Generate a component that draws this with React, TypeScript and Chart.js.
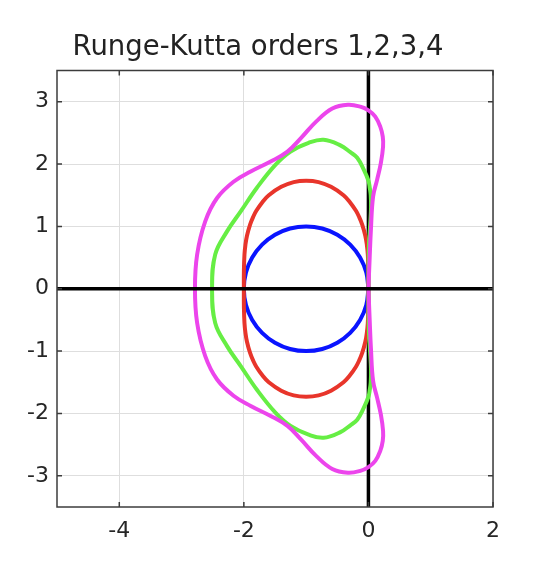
import React, { useEffect, useRef } from "react";
import { Chart, registerables } from "chart.js";

Chart.register(...registerables);

const titleText = "Runge-Kutta orders 1,2,3,4";

const xTicks = [-4, -2, 0, 2];
const yTicks = [-3, -2, -1, 0, 1, 2, 3];

// Order 1 (blue) boundary
const rk1X = [0, -0.034, -0.134, -0.293, -0.5, -0.741, -1, -1.259, -1.5, -1.707, -1.866, -1.966, -2,
  -1.966, -1.866, -1.707, -1.5, -1.259, -1, -0.741, -0.5, -0.293, -0.134, -0.034, 0];
const rk1Y = [0, 0.259, 0.5, 0.707, 0.866, 0.966, 1, 0.966, 0.866, 0.707, 0.5, 0.259, 0,
  -0.259, -0.5, -0.707, -0.866, -0.966, -1, -0.966, -0.866, -0.707, -0.5, -0.259, 0];

// Order 2 (red) boundary
const rk2X = [0, -0.001, -0.01, -0.025, -0.05, -0.1, -0.15, -0.2, -0.3, -0.4, -0.6, -0.8, -1, -1.2, -1.4, -1.6, -1.7, -1.8, -1.85, -1.9, -1.95, -1.975, -1.99, -1.999, -2,
  -1.999, -1.99, -1.975, -1.95, -1.9, -1.85, -1.8, -1.7, -1.6, -1.4, -1.2, -1, -0.8, -0.6, -0.4, -0.3, -0.2, -0.15, -0.1, -0.05, -0.025, -0.01, -0.001, 0];
const rk2Y = [0, 0.3, 0.55, 0.703, 0.85, 1.03, 1.154, 1.25, 1.392, 1.5, 1.635, 1.71, 1.732, 1.71, 1.635, 1.5, 1.392, 1.25, 1.154, 1.03, 0.85, 0.703, 0.55, 0.3, 0,
  -0.3, -0.55, -0.703, -0.85, -1.03, -1.154, -1.25, -1.392, -1.5, -1.635, -1.71, -1.732, -1.71, -1.635, -1.5, -1.392, -1.25, -1.154, -1.03, -0.85, -0.703, -0.55, -0.3, 0];

// Order 3 (green) boundary
const rk3X = [0, 0.008, 0.026, 0.042, 0.037, 0.02, 0, -0.075, -0.18, -0.29, -0.45, -0.72, -0.96, -1.25, -1.49, -1.79, -2.05, -2.27, -2.46, -2.51,
  -2.46, -2.27, -2.05, -1.79, -1.49, -1.25, -0.96, -0.72, -0.45, -0.29, -0.18, -0.075, 0, 0.02, 0.037, 0.042, 0.026, 0.008, 0];
const rk3Y = [0, 0.7, 1.0, 1.3, 1.5, 1.63, 1.732, 1.91, 2.1, 2.19, 2.3, 2.39, 2.34, 2.2, 1.99, 1.62, 1.24, 0.92, 0.55, 0,
  -0.55, -0.92, -1.24, -1.62, -1.99, -2.2, -2.34, -2.39, -2.3, -2.19, -2.1, -1.91, -1.732, -1.63, -1.5, -1.3, -1.0, -0.7, 0];

// Order 4 (magenta) boundary
const rk4X = [0, 0.02, 0.04, 0.075, 0.14, 0.2, 0.235, 0.23, 0.19, 0.11, 0, -0.13, -0.33, -0.58, -0.84, -1.08, -1.3, -1.57, -1.89, -2.16, -2.43, -2.62, -2.75, -2.785,
  -2.75, -2.62, -2.43, -2.16, -1.89, -1.57, -1.3, -1.08, -0.84, -0.58, -0.33, -0.13, 0, 0.11, 0.19, 0.23, 0.235, 0.2, 0.14, 0.075, 0.04, 0.02, 0];
const rk4Y = [0, 0.5, 0.95, 1.48, 1.75, 2.02, 2.28, 2.44, 2.6, 2.76, 2.86, 2.92, 2.95, 2.89, 2.68, 2.42, 2.2, 2.04, 1.88, 1.72, 1.455, 1.08, 0.55, 0,
  -0.55, -1.08, -1.455, -1.72, -1.88, -2.04, -2.2, -2.42, -2.68, -2.89, -2.95, -2.92, -2.86, -2.76, -2.6, -2.44, -2.28, -2.02, -1.75, -1.48, -0.95, -0.5, 0];

// Real and imaginary axes
const realAxisX = [-5, 2];
const realAxisY = [0, 0];
const imagAxisX = [0, 0];
const imagAxisY = [-3.5, 3.5];

const toPts = (xs: number[], ys: number[]) => xs.map((x, i) => ({ x, y: ys[i] }));

const boxPlugin = {
  id: "boxTicks",
  afterDraw(chart: any) {
    const { ctx, chartArea, scales } = chart;
    const { left, right, top, bottom } = chartArea;
    ctx.save();
    ctx.strokeStyle = "#3c3c3c";
    ctx.lineWidth = 1.5;
    ctx.strokeRect(left, top, right - left, bottom - top);
    const tl = 5;
    ctx.beginPath();
    xTicks.forEach((v) => {
      const px = scales.x.getPixelForValue(v);
      ctx.moveTo(px, bottom);
      ctx.lineTo(px, bottom - tl);
      ctx.moveTo(px, top);
      ctx.lineTo(px, top + tl);
    });
    yTicks.forEach((v) => {
      const py = scales.y.getPixelForValue(v);
      ctx.moveTo(left, py);
      ctx.lineTo(left + tl, py);
      ctx.moveTo(right, py);
      ctx.lineTo(right - tl, py);
    });
    ctx.stroke();
    ctx.restore();
  },
};

export default function App() {
  const ref = useRef<HTMLCanvasElement | null>(null);
  useEffect(() => {
    if (!ref.current) return;
    const line = (label: string, data: any[], color: string, w = 4) => ({
      label,
      data,
      borderColor: color,
      backgroundColor: color,
      borderWidth: w,
      showLine: true,
      pointRadius: 0,
      pointHoverRadius: 0,
      tension: 0.4,
      fill: false,
    });
    const chart = new Chart(ref.current, {
      type: "scatter",
      data: {
        datasets: [
          { ...line("real axis", toPts(realAxisX, realAxisY), "#000000", 3.5), tension: 0 },
          line("order 4", toPts(rk4X, rk4Y), "#ec45ec"),
          line("order 3", toPts(rk3X, rk3Y), "#66ee44"),
          line("order 2", toPts(rk2X, rk2Y), "#e8352b"),
          line("order 1", toPts(rk1X, rk1Y), "#0a14ff"),
          { ...line("imag axis", toPts(imagAxisX, imagAxisY), "#000000", 3.5), tension: 0 },
        ],
      },
      options: {
        animation: false,
        responsive: false,
        devicePixelRatio: 1,
        layout: { padding: { left: 23, right: 63, top: 0, bottom: 0 } },
        plugins: {
          legend: { display: false },
          tooltip: { enabled: false },
          title: {
            display: true,
            text: titleText,
            color: "#222222",
            font: { family: "DejaVu Sans", size: 27.5, weight: "normal" },
            padding: { top: 31, bottom: 6.5 },
          },
        },
        scales: {
          x: {
            type: "linear",
            min: -5,
            max: 2,
            afterFit: (s: any) => { s.height = 61; },
            afterBuildTicks: (s: any) => { s.ticks = xTicks.map((v) => ({ value: v })); },
            grid: { color: "#dedede", lineWidth: 1, drawTicks: false },
            border: { display: false },
            ticks: {
              autoSkip: false,
              maxRotation: 0,
              padding: 11,
              color: "#262626",
              font: { family: "DejaVu Sans", size: 22 },
              callback: (v: any) => String(v),
            },
          },
          y: {
            type: "linear",
            min: -3.5,
            max: 3.5,
            afterFit: (s: any) => { s.width = 34; },
            afterBuildTicks: (s: any) => { s.ticks = yTicks.map((v) => ({ value: v })); },
            grid: { color: "#dedede", lineWidth: 1, drawTicks: false },
            border: { display: false },
            ticks: {
              autoSkip: false,
              padding: 8,
              color: "#262626",
              font: { family: "DejaVu Sans", size: 22 },
              callback: (v: any) => String(v),
            },
          },
        },
      },
      plugins: [boxPlugin],
    });
    return () => chart.destroy();
  }, []);
  return (
    <div style={{ position: "fixed", left: 0, top: 0, width: 556, height: 568, background: "#fff" }}>
      <canvas ref={ref} width={556} height={568} style={{ width: 556, height: 568, display: "block" }} />
    </div>
  );
}
